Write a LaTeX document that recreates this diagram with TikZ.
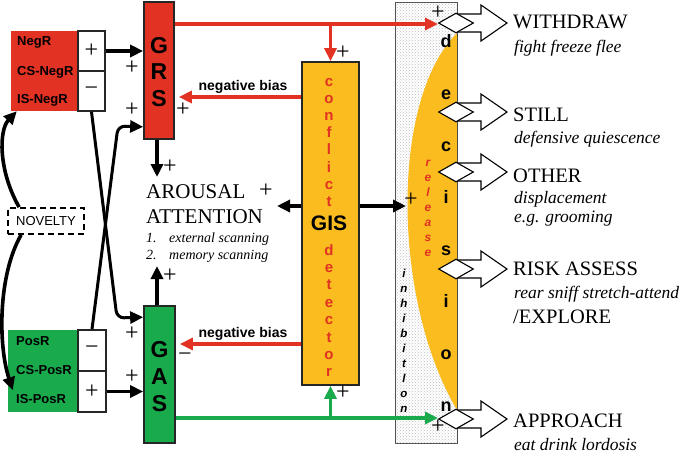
\documentclass[tikz,border=0pt]{standalone}
\usepackage{fontspec}
\setmainfont{Liberation Serif}
\setsansfont{Liberation Sans}
\usetikzlibrary{arrows.meta,shapes.geometric,patterns,calc}

\definecolor{bred}{RGB}{225,50,35}
\definecolor{bgreen}{RGB}{25,170,75}
\definecolor{borange}{RGB}{250,188,30}
\newcommand{\fs}[1]{\fontsize{#1}{#1}\selectfont}

\tikzset{
  tip/.style={-{Triangle[length=13pt,width=12pt]}},
  blk/.style={line width=3.6pt,tip},
  redln/.style={bred,line width=3.6pt},
  grnln/.style={bgreen,line width=3.6pt},
  blockbox/.style={draw=black!85,line width=1.7pt,inner sep=0},
  cell/.style={blockbox,fill=white,minimum width=27,minimum height=40,font=\fs{24}},
  tag/.style={font=\sffamily\bfseries\fs{13},anchor=base west,inner sep=0},
  sgn/.style={font=\fs{24},inner sep=0},
  big/.style={font=\sffamily\bfseries\fs{23},anchor=base,inner sep=0},
  title/.style={font=\fs{20.5},anchor=base west,inner sep=0},
  sub/.style={font=\itshape\fs{17.5},anchor=base west,inner sep=0},
  scan/.style={font=\itshape\fs{14},anchor=base west,inner sep=0},
  bias/.style={font=\sffamily\bfseries\fs{14},anchor=base,inner sep=0},
  vlet/.style={font=\sffamily\bfseries\fs{15},anchor=base,inner sep=0},
  slant/.style={font=\sffamily\bfseries\itshape\fs{12},anchor=base,inner sep=0},
}

\begin{document}
\begin{tikzpicture}[x=1pt,y=-1pt]
\useasboundingbox (0,0) rectangle (685,456);

\node[draw=black!70,line width=1pt,fill=white,postaction={pattern=crosshatch dots,pattern color=black!25},
  minimum width=62,minimum height=441,inner sep=0] (bar) at (426,222.5) {};
\fill[borange] (457,33) .. controls (390,100) and (392,300) .. (457,410) -- cycle;
\draw[black!70,line width=1pt] (bar.north east) -- (bar.south east);
\foreach \c [count=\k from 0] in {d,e,c,i,s,i,o,n}
  \node[vlet,font=\sffamily\bfseries\fs{18}] (dc\k) at (446,47+52.1*\k) {\c};
\foreach \c [count=\k from 0] in {r,e,l,e,a,s,e}
  \node[slant,bred] (rl\k) at (428,166+15*\k) {\c};
\foreach \c [count=\k from 0] in {i,n,h,i,b,i,t,l,o,n}
  \node[slant,font=\sffamily\bfseries\itshape\fs{11.5}] (ih\k) at (404,277+15*\k) {\c};

\node[fill=bred,minimum width=67,minimum height=80,inner sep=0] (negr) at (44.5,71) {};
\node[cell] (negplus) at (91.5,51) {+};
\node[cell] (negminus) at (91.5,91) {−};
\node[tag] at (17,45) {NegR};
\node[tag] at (17,75) {CS-NegR};
\node[tag] at (17,103) {IS-NegR};

\node[fill=bgreen,minimum width=70,minimum height=82,inner sep=0] (posr) at (43,371) {};
\node[cell,minimum width=28,minimum height=41] (posminus) at (92,350.5) {−};
\node[cell,minimum width=28,minimum height=41] (posplus) at (92,391.5) {+};
\node[tag] at (16,345) {PosR};
\node[tag] at (16,374) {CS-PosR};
\node[tag] at (16,403) {IS-PosR};

\node[draw,dashed,dash pattern=on 6pt off 4pt,line width=1.8pt,minimum width=76,minimum height=26,
  font=\sffamily\fs{13},inner sep=0] (nov) at (46,221) {NOVELTY};

\node[blockbox,fill=bred,minimum width=30,minimum height=137] (grs) at (159,70.5) {};
\foreach \c [count=\k from 0] in {G,R,S}
  \node[big] (grs\k) at (159,53+26.5*\k) {\c};
\node[blockbox,fill=bgreen,minimum width=31,minimum height=137] (gas) at (159.5,374.5) {};
\foreach \c [count=\k from 0] in {G,A,S}
  \node[big] (gas\k) at (159.5,357+27*\k) {\c};

\node[blockbox,fill=borange,minimum width=57,minimum height=323] (gis) at (330.5,223.5) {};
\foreach \c [count=\k from 0] in {c,o,n,f,l,i,c,t}
  \node[vlet,bred] (cf\k) at (329,86+17.2*\k) {\c};
\node[big,font=\sffamily\bfseries\fs{21}] (gisl) at (329,230.5) {GIS};
\foreach \c [count=\k from 0] in {d,e,t,e,c,t,o,r}
  \node[vlet,bred] (dt\k) at (329,255+17.4*\k) {\c};

\node[title,font=\fs{21}] (arousal) at (146,198) {AROUSAL};
\node[title,font=\fs{21}] (attention) at (146,223) {ATTENTION};
\node[scan] at (146,242) {1.};
\node[scan] (scan1) at (169,242) {external scanning};
\node[scan] at (146,259) {2.};
\node[scan] (scan2) at (169,259) {memory scanning};

\coordinate (arin) at (157,177);
\coordinate (atin) at (157,266);
\coordinate (arr) at (277,206);
\coordinate (decin) at (406,206);
\coordinate (wdin) at (438,24);
\coordinate (apin) at (438,418);

\draw[blk] (negplus.east) -- (negplus.east -| grs.west);
\draw[blk] (posplus.east) -- (posplus.east -| gas.west);
\draw[blk,line width=3pt,rounded corners=7pt] (negminus.south) -- (117,318) -- ($(gas.north west)+(0,12)$);
\draw[blk,line width=3pt,rounded corners=7pt] (posminus.north) -- (118,126) -- ($(grs.south west)+(0,-13)$);
\draw[blk] ($(nov.north west)+(12,0)$) .. controls (-2,170) and (-1,130) .. ($(negr.south west)+(6,0)$);
\draw[blk] ($(nov.south west)+(14,0)$) .. controls (-2,275) and (-2,345) .. ($(posr.south west)+(5,-22)$);
\draw[blk] (grs.south -| arin) -- (arin);
\draw[blk] (gas.north -| atin) -- (atin);
\draw[blk] (gis.west |- arr) -- (arr);
\draw[blk] (gis.east |- decin) -- (decin);

\draw[redln,tip] (grs.east |- wdin) -- (wdin);
\draw[redln,tip] (gis.north |- wdin) -- (gis.north);
\draw[redln,tip,shorten >=4pt] (gis.west |- 0,97) -- (grs.east |- 0,97);
\node[bias] (nb1) at (243,90) {negative bias};
\draw[redln,tip,shorten >=4pt] (gis.west |- 0,344) -- (gas.east |- 0,344);
\node[bias] (nb2) at (243,337) {negative bias};
\draw[grnln,tip] (gas.east |- apin) -- (apin);
\draw[grnln,tip] (gis.south |- apin) -- (gis.south);

\foreach \p [count=\i] in {(132,68),(132,110),(183,110),(170,167),(266,191),(343,53),(170,276),
  (132,334),(132,377),(343,393),(411,200),(438,13),(438,427)}
  \node[sgn] (pl\i) at \p {+};
\node[sgn] (mi1) at (185,357) {−};

\foreach \y/\n in {23/wd,112/st,172/ot,269/ra,419/ap}{
  \draw[line width=1.1pt,fill=white] (458,\y-9) -- (481,\y-9) -- (481,\y-18) -- (507,\y)
    -- (481,\y+18) -- (481,\y+9) -- (458,\y+9) -- cycle;
  \node[draw,line width=1.1pt,fill=white,diamond,minimum width=35,minimum height=20,inner sep=0] (\n) at (456,\y) {};
}

\node[title] (wdt) at (513,28) {WITHDRAW};
\node[sub] at (514,52) {fight freeze flee};
\node[title] (stt) at (513,121) {STILL};
\node[sub] at (514,143) {defensive quiescence};
\node[title] (ott) at (513,182) {OTHER};
\node[sub] at (514,203) {displacement};
\node[sub] at (514,222) {e.g. grooming};
\node[title] (rat) at (513,275) {RISK ASSESS};
\node[sub] at (514,298) {rear sniff stretch-attend};
\node[title] at (513,323) {/EXPLORE};
\node[title] (apt) at (513,427) {APPROACH};
\node[sub] at (514,450) {eat drink lordosis};
\end{tikzpicture}
\end{document}
